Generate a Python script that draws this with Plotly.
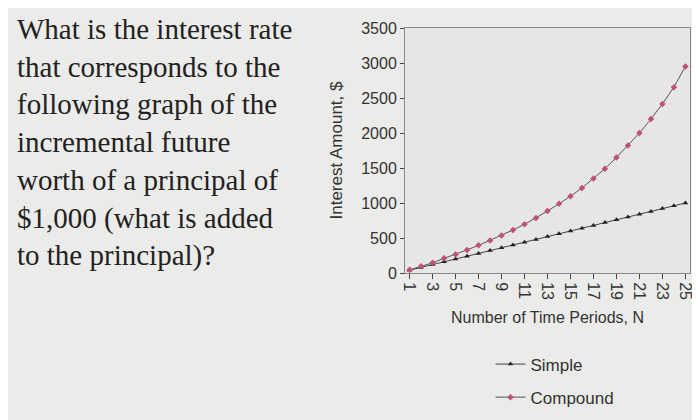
import plotly.graph_objects as go

periods = list(range(1, 26))
simple = [40, 80, 120, 160, 200, 240, 280, 320, 360, 400, 440, 480, 520, 560, 600,
          640, 680, 720, 760, 800, 840, 880, 920, 960, 1000]
compound = [45, 95, 145, 210, 265, 330, 395, 465, 535, 615, 695, 785, 885, 990, 1095,
            1215, 1350, 1490, 1650, 1820, 2000, 2200, 2415, 2655, 2950]
x_ticks = [str(n) for n in range(1, 26, 2)]

question = ("What is the interest rate<br>that corresponds to the<br>following graph of the<br>"
            "incremental future<br>worth of a principal of<br>$1,000 (what is added<br>to the principal)?")

fig = go.Figure()
fig.add_trace(go.Scatter(x=periods, y=simple, mode='lines+markers', name='Simple',
                         legendgroup='s', line=dict(color='#444', width=1),
                         marker=dict(symbol='triangle-up', size=5, color='#222')))
fig.add_trace(go.Scatter(x=periods, y=compound, mode='lines+markers', name='Compound',
                         legendgroup='c', line=dict(color='#555', width=1),
                         marker=dict(symbol='diamond', size=5, color='#c0507a')))

fig.add_annotation(text=question, xref='paper', yref='paper', x=-1.37, y=1.07,
                   xanchor='left', yanchor='top', showarrow=False, align='left',
                   font=dict(family='Liberation Serif', size=29, color='#222'))

fig.update_layout(
    width=700, height=420,
    margin=dict(l=397, r=18, t=20, b=150),
    paper_bgcolor='#ebebe9', plot_bgcolor='#e6e6e4',
    font=dict(family='Liberation Sans', color='#333', size=16),
    showlegend=True,
    legend=dict(x=0.3, y=-0.3, xanchor='left', yanchor='top', bgcolor='rgba(0,0,0,0)',
                font=dict(size=17), tracegroupgap=8),
)
fig.update_xaxes(tickmode='array', tickvals=list(range(1, 26, 2)), ticktext=x_ticks,
                 tickangle=90, range=[0.6, 25.4], showgrid=False, ticks='outside',
                 ticklen=5, linecolor='#888', showline=True, mirror=True,
                 title=dict(text='Number of Time Periods, N', font=dict(size=16), standoff=12))
fig.update_yaxes(range=[0, 3500], dtick=500, showgrid=False, ticks='outside', ticklen=4,
                 linecolor='#888', showline=True, mirror=True,
                 title=dict(text='Interest Amount, $', font=dict(size=17), standoff=14))

fig.write_html("out.html")
